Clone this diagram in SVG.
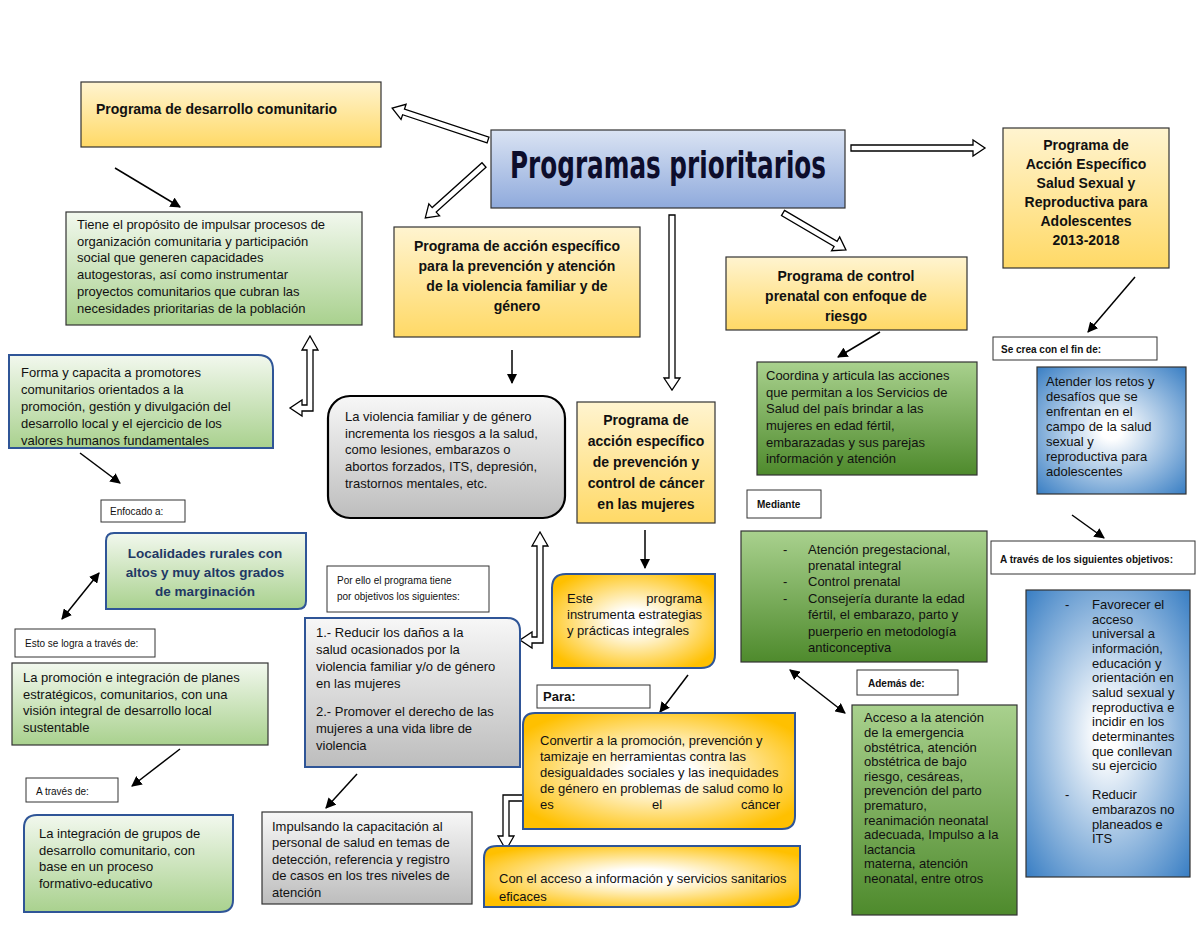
<svg xmlns="http://www.w3.org/2000/svg" width="1200" height="927" viewBox="0 0 1200 927">
<defs>
<linearGradient id="gy" x1="0" y1="0" x2="0" y2="1"><stop offset="0" stop-color="#fff4d0"/><stop offset="1" stop-color="#ffd966"/></linearGradient>
<linearGradient id="gb" x1="0" y1="0" x2="0" y2="1"><stop offset="0" stop-color="#dae3f3"/><stop offset="1" stop-color="#8faadc"/></linearGradient>
<linearGradient id="gg" x1="0" y1="0" x2="0" y2="1"><stop offset="0" stop-color="#f2f8ee"/><stop offset="1" stop-color="#a9d18e"/></linearGradient>
<linearGradient id="gd" x1="0" y1="0" x2="0" y2="1"><stop offset="0" stop-color="#a9d18e"/><stop offset="1" stop-color="#4e8a2c"/></linearGradient>
<linearGradient id="gr" x1="0" y1="0" x2="0" y2="1"><stop offset="0" stop-color="#f7f7f7"/><stop offset="1" stop-color="#bdbdbd"/></linearGradient>
<radialGradient id="go" cx="0.5" cy="0.5" r="0.6"><stop offset="0.2" stop-color="#ffffff"/><stop offset="1" stop-color="#ffc000"/></radialGradient>
<radialGradient id="gl" cx="0.5" cy="0.5" r="0.7"><stop offset="0.1" stop-color="#ffffff"/><stop offset="1" stop-color="#3a7fc4"/></radialGradient>
<marker id="ah" viewBox="0 0 10 10" refX="9" refY="5" markerWidth="7" markerHeight="7" orient="auto-start-reverse"><path d="M0,0 L10,5 L0,10 Z" fill="#000"/></marker>
</defs>
<style>
text{font-family:"Liberation Sans",Arial,sans-serif;font-size:13px;fill:#111}
.b{font-weight:bold;font-size:14px}
.s{font-size:10px}
.sb{font-size:10px;font-weight:bold}
.bx{stroke:#333;stroke-width:1.2}
.bl{stroke:#2f5597;stroke-width:2}
.w{fill:#fff;stroke:#333;stroke-width:1}
.ln{stroke:#000;stroke-width:1.5;fill:none;marker-end:url(#ah)}
.dl{stroke:#000;stroke-width:1.5;fill:none;marker-end:url(#ah);marker-start:url(#ah)}
.ha{fill:#fff;stroke:#000;stroke-width:1.3}
.c{text-anchor:middle}
</style>
<rect width="1200" height="927" fill="#fff"/>

<g id="connectors">
<path class="ha" transform="translate(488,140) rotate(198.4)" d="M0,-3 L89,-3 L89,-8 L101,0 L89,8 L89,3 L0,3 Z"/>
<path class="ha" transform="translate(484,165) rotate(138)" d="M0,-3 L67,-3 L67,-8 L79,0 L67,8 L67,3 L0,3 Z"/>
<path class="ha" transform="translate(851,148)" d="M0,-3 L122,-3 L122,-8 L134,0 L122,8 L122,3 L0,3 Z"/>
<path class="ha" transform="translate(672,215) rotate(90)" d="M0,-3 L163,-3 L163,-8 L175,0 L163,8 L163,3 L0,3 Z"/>
<path class="ha" transform="translate(783,213) rotate(30.4)" d="M0,-3 L61,-3 L61,-8 L73,0 L61,8 L61,3 L0,3 Z"/>
<path class="ha" d="M307,350 L302,350 L310,336 L318,350 L313,350 L313,411 L302,411 L302,416 L290,408 L302,400 L302,405 L307,405 Z"/>
<path class="ha" d="M537,546 L532,546 L540,532 L548,546 L543,546 L543,643 L532,643 L532,648 L520,640 L532,632 L532,637 L537,637 Z"/>
<path class="ha" d="M523,795 L503,795 L503,836 L498,836 L506,850 L514,836 L509,836 L509,801 L523,801 Z"/>
<line class="ln" x1="115" y1="168" x2="180" y2="207"/>
<line class="ln" x1="512" y1="350" x2="512" y2="383"/>
<line class="ln" x1="80" y1="453" x2="120" y2="483"/>
<line class="dl" x1="99" y1="573" x2="62" y2="619"/>
<line class="ln" x1="180" y1="749" x2="132" y2="786"/>
<line class="ln" x1="357" y1="774" x2="326" y2="808"/>
<line class="ln" x1="645" y1="530" x2="645" y2="568"/>
<line class="ln" x1="688" y1="675" x2="660" y2="712"/>
<line class="ln" x1="880" y1="332" x2="838" y2="357"/>
<line class="ln" x1="1135" y1="277" x2="1088" y2="332"/>
<line class="ln" x1="1072" y1="515" x2="1104" y2="538"/>
<line class="dl" x1="790" y1="670" x2="845" y2="713"/>
</g>

<g id="n-desarrollo"><rect class="bx" x="81" y="82" width="300" height="65" fill="url(#gy)"/><text class="b" x="96" y="114">Programa de desarrollo comunitario</text></g>
<g id="n-prioritarios"><rect class="bx" x="491" y="130" width="354" height="78" fill="url(#gb)"/><text x="668" y="178" class="c" style="font-family:'DejaVu Sans Condensed','Liberation Sans',sans-serif;font-size:38px;font-weight:bold;fill:#0d0d2b" textLength="316" lengthAdjust="spacingAndGlyphs">Programas prioritarios</text></g>
<g id="n-tiene"><rect class="bx" x="66" y="212" width="296" height="113" fill="url(#gg)"/><text x="77" y="229">Tiene el propósito de impulsar procesos de</text><text x="77" y="246">organización comunitaria y participación</text><text x="77" y="262">social que generen capacidades</text><text x="77" y="279">autogestoras, así como instrumentar</text><text x="77" y="296">proyectos comunitarios que cubran las</text><text x="77" y="313">necesidades prioritarias de la población</text></g>
<g id="n-violencia"><rect class="bx" x="394" y="227" width="246" height="110" fill="url(#gy)"/><text class="b c" x="517" y="251">Programa de acción específico</text><text class="b c" x="517" y="271">para la prevención y atención</text><text class="b c" x="517" y="291">de la violencia familiar y de</text><text class="b c" x="517" y="311">género</text></g>
<g id="n-prenatal"><rect class="bx" x="726" y="257" width="241" height="73" fill="url(#gy)"/><text class="b c" x="846" y="281">Programa de control</text><text class="b c" x="846" y="301">prenatal con enfoque de</text><text class="b c" x="846" y="321">riesgo</text></g>
<g id="n-salud"><rect class="bx" x="1003" y="128" width="166" height="140" fill="url(#gy)"/><text class="b c" x="1086" y="150">Programa de</text><text class="b c" x="1086" y="169">Acción Específico</text><text class="b c" x="1086" y="188">Salud Sexual y</text><text class="b c" x="1086" y="207">Reproductiva para</text><text class="b c" x="1086" y="226">Adolescentes</text><text class="b c" x="1086" y="245">2013-2018</text></g>
<g id="n-secrea"><rect class="w" x="993" y="337" width="164" height="23"/><text class="sb" x="1001" y="353">Se crea con el fin de:</text></g>
<g id="n-atender"><rect class="bx" x="1037" y="367" width="149" height="127" fill="url(#gl)"/><text x="1046" y="386">Atender los retos y</text><text x="1046" y="401">desafíos que se</text><text x="1046" y="416">enfrentan en el</text><text x="1046" y="431">campo de la salud</text><text x="1046" y="446">sexual y</text><text x="1046" y="461">reproductiva para</text><text x="1046" y="476">adolescentes</text></g>
<g id="n-forma"><path class="bl" d="M9,355 H258 Q273,355 273,370 V448 H9 Z" fill="url(#gg)"/><text x="21" y="377">Forma y capacita a promotores</text><text x="21" y="394">comunitarios orientados a la</text><text x="21" y="411">promoción, gestión y divulgación del</text><text x="21" y="428">desarrollo local y el ejercicio de los</text><text x="21" y="445">valores humanos fundamentales</text></g>
<g id="n-riesgos"><rect x="328" y="396" width="237" height="122" rx="22" fill="url(#gr)" stroke="#000" stroke-width="2.2"/><text x="345" y="421">La violencia familiar y de género</text><text x="345" y="438">incrementa los riesgos a la salud,</text><text x="345" y="454">como lesiones, embarazos o</text><text x="345" y="471">abortos forzados, ITS, depresión,</text><text x="345" y="488">trastornos mentales, etc.</text></g>
<g id="n-cancer"><rect class="bx" x="577" y="402" width="138" height="121" fill="url(#gy)"/><text class="b c" x="646" y="425">Programa de</text><text class="b c" x="646" y="446">acción específico</text><text class="b c" x="646" y="467">de prevención y</text><text class="b c" x="646" y="488">control de cáncer</text><text class="b c" x="646" y="509">en las mujeres</text></g>
<g id="n-coordina"><rect class="bx" x="757" y="362" width="220" height="113" fill="url(#gd)"/><text x="766" y="380">Coordina y articula las acciones</text><text x="766" y="397">que permitan a los Servicios de</text><text x="766" y="413">Salud del país brindar a las</text><text x="766" y="430">mujeres en edad fértil,</text><text x="766" y="447">embarazadas y sus parejas</text><text x="766" y="463">información y atención</text></g>
<g id="n-enfocado"><rect class="w" x="101" y="500" width="84" height="22"/><text class="s" x="110" y="515">Enfocado a:</text></g>
<g id="n-mediante"><rect class="w" x="747" y="490" width="74" height="28"/><text class="sb" x="757" y="508">Mediante</text></g>
<g id="n-atencion"><rect class="bx" x="741" y="531" width="246" height="131" fill="url(#gd)"/><text x="783" y="554">-</text><text x="808" y="554">Atención pregestacional,</text><text x="808" y="570">prenatal integral</text><text x="783" y="586">-</text><text x="808" y="586">Control prenatal</text><text x="783" y="603">-</text><text x="808" y="603">Consejería durante la edad</text><text x="808" y="619">fértil, el embarazo, parto y</text><text x="808" y="636">puerperio en metodología</text><text x="808" y="652">anticonceptiva</text></g>
<g id="n-localidades"><path class="bl" d="M114,533 H306 V601 Q306,609 298,609 H106 V541 Q106,533 114,533 Z" fill="url(#gg)"/><text class="b c" x="205" y="558" style="fill:#1f3864;font-size:13.5px">Localidades rurales con</text><text class="b c" x="205" y="577" style="fill:#1f3864;font-size:13.5px">altos y muy altos grados</text><text class="b c" x="205" y="596" style="fill:#1f3864;font-size:13.5px">de marginación</text></g>
<g id="n-porello"><rect class="w" x="327" y="566" width="162" height="46"/><text class="s" x="337" y="584">Por ello el programa tiene</text><text class="s" x="337" y="600">por objetivos los siguientes:</text></g>
<g id="n-atraves-obj"><rect class="w" x="991" y="541" width="204" height="33"/><text class="sb" x="1000" y="563">A través de los siguientes objetivos:</text></g>
<g id="n-este"><path class="bl" d="M566,574 H715 V654 Q715,668 701,668 H552 V588 Q552,574 566,574 Z" fill="url(#go)"/><text x="567" y="603">Este</text><text x="702" y="603" style="text-anchor:end">programa</text><text x="567" y="619">instrumenta estrategias</text><text x="567" y="635">y prácticas integrales</text></g>
<g id="n-esto"><rect class="w" x="15" y="629" width="140" height="28"/><text class="s" x="25" y="647">Esto se logra a través de:</text></g>
<g id="n-reducir"><path class="bl" d="M305,618 H507 Q520,618 520,631 V767 H305 Z" fill="url(#gr)"/><text x="316" y="637">1.- Reducir los daños a la</text><text x="316" y="654">salud ocasionados por la</text><text x="316" y="671">violencia familiar y/o de género</text><text x="316" y="688">en las mujeres</text><text x="316" y="716">2.- Promover el derecho de las</text><text x="316" y="733">mujeres a una vida libre de</text><text x="316" y="750">violencia</text></g>
<g id="n-favorecer"><rect class="bx" x="1026" y="590" width="164" height="287" fill="url(#gl)"/><text x="1065" y="609">-</text><text x="1092" y="609">Favorecer el</text><text x="1092" y="624">acceso</text><text x="1092" y="638">universal a</text><text x="1092" y="653">información,</text><text x="1092" y="668">educación y</text><text x="1092" y="682">orientación en</text><text x="1092" y="697">salud sexual y</text><text x="1092" y="712">reproductiva e</text><text x="1092" y="726">incidir en los</text><text x="1092" y="741">determinantes</text><text x="1092" y="756">que conllevan</text><text x="1092" y="770">su ejercicio</text><text x="1065" y="799">-</text><text x="1092" y="799">Reducir</text><text x="1092" y="814">embarazos no</text><text x="1092" y="829">planeados e</text><text x="1092" y="843">ITS</text></g>
<g id="n-promocion"><rect class="bx" x="12" y="663" width="256" height="82" fill="url(#gg)"/><text x="23" y="682">La promoción e integración de planes</text><text x="23" y="699">estratégicos, comunitarios, con una</text><text x="23" y="715">visión integral de desarrollo local</text><text x="23" y="732">sustentable</text></g>
<g id="n-para"><rect class="w" x="537" y="685" width="113" height="23"/><text x="543" y="701" style="font-weight:bold">Para:</text></g>
<g id="n-ademas"><rect class="w" x="857" y="670" width="101" height="25"/><text class="sb" x="868" y="687">Además de:</text></g>
<g id="n-convertir"><path class="bl" d="M535,713 H795 V816 Q795,829 782,829 H523 V725 Q523,713 535,713 Z" fill="url(#go)"/><text x="540" y="745">Convertir a la promoción, prevención y</text><text x="540" y="761">tamizaje en herramientas contra las</text><text x="540" y="777">desigualdades sociales y las inequidades</text><text x="540" y="793">de género en problemas de salud como lo</text><text x="540" y="809">es</text><text x="652" y="809">el</text><text x="780" y="809" style="text-anchor:end">cáncer</text></g>
<g id="n-acceso"><rect class="bx" x="852" y="705" width="165" height="210" fill="url(#gd)"/><text x="864" y="722">Acceso a la atención</text><text x="864" y="737">de la emergencia</text><text x="864" y="752">obstétrica, atención</text><text x="864" y="766">obstétrica de bajo</text><text x="864" y="781">riesgo, cesáreas,</text><text x="864" y="795">prevención del parto</text><text x="864" y="810">prematuro,</text><text x="864" y="825">reanimación neonatal</text><text x="864" y="839">adecuada, Impulso a la</text><text x="864" y="854">lactancia</text><text x="864" y="868">materna, atención</text><text x="864" y="883">neonatal, entre otros</text></g>
<g id="n-atraves"><rect class="w" x="26" y="778" width="92" height="24"/><text class="s" x="36" y="795">A través de:</text></g>
<g id="n-integracion"><path class="bl" d="M37,815 H233 V900 Q233,912 220,912 H24 V828 Q24,815 37,815 Z" fill="url(#gg)"/><text x="39" y="838">La integración de grupos de</text><text x="39" y="855">desarrollo comunitario, con</text><text x="39" y="871">base en un proceso</text><text x="39" y="888">formativo-educativo</text></g>
<g id="n-impulsando"><rect class="bx" x="262" y="812" width="210" height="92" fill="url(#gr)"/><text x="272" y="831">Impulsando la capacitación al</text><text x="272" y="847">personal de salud en temas de</text><text x="272" y="864">detección, referencia y registro</text><text x="272" y="880">de casos en los tres niveles de</text><text x="272" y="897">atención</text></g>
<g id="n-conacceso"><path class="bl" d="M497,846 H800 V895 Q800,907 788,907 H484 V858 Q484,846 497,846 Z" fill="url(#go)"/><text x="499" y="883">Con el acceso a información y servicios sanitarios</text><text x="499" y="901">eficaces</text></g>
</svg>
